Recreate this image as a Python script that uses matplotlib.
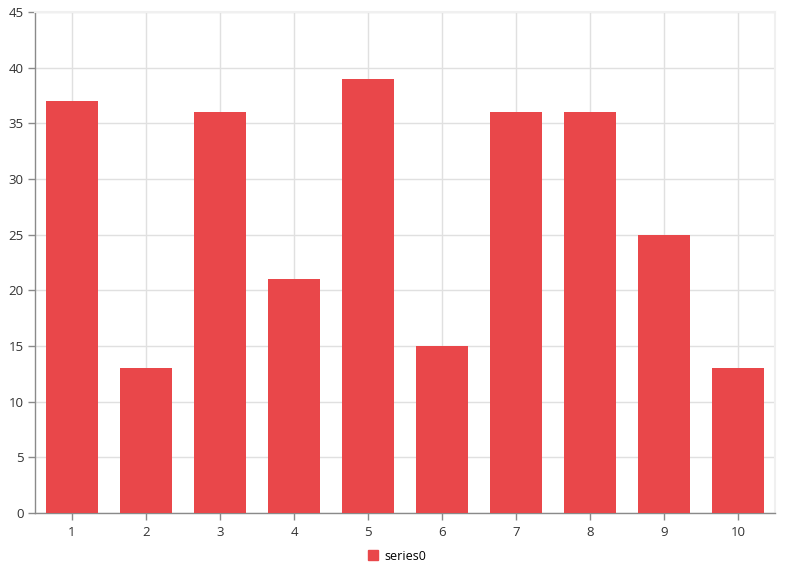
import matplotlib
matplotlib.use('Agg')
import matplotlib.pyplot as plt
from matplotlib.patches import Patch

# datos del grafico
categorias = ['1', '2', '3', '4', '5', '6', '7', '8', '9', '10']
valores = [37, 13, 36, 21, 39, 15, 36, 36, 25, 13]
nombre_serie = 'series0'

plt.rcParams['font.family'] = ['Open Sans', 'DejaVu Sans']

W, H = 790, 569
fig = plt.figure(figsize=(W / 100, H / 100), dpi=100)
ax = fig.add_axes([35 / W, (H - 513) / H, 740 / W, 501 / H])

x = list(range(len(categorias)))
ax.bar(x, valores, width=0.7, color='#E9474A', zorder=3)

ax.set_xlim(-0.5, len(categorias) - 0.5)
ax.set_ylim(0, 45)
ax.set_yticks(range(0, 46, 5))
ax.set_xticks(x)
ax.set_xticklabels(categorias)

ax.grid(True, color='#E0E0E0', linewidth=1, zorder=0)
for lado in ['top', 'right']:
    ax.spines[lado].set_color('#F0F0F0')
    ax.spines[lado].set_linewidth(1.5)
for lado in ['left', 'bottom']:
    ax.spines[lado].set_color('#8A8A8A')
    ax.spines[lado].set_linewidth(1)

ax.tick_params(axis='both', colors='#8A8A8A', labelcolor='#333333',
               labelsize=9.5, length=5, width=1)
ax.tick_params(axis='x', pad=4)
ax.tick_params(axis='y', pad=3)

# leyenda
fig.legend(handles=[Patch(color='#E9474A', label=nombre_serie)],
           loc='center', bbox_to_anchor=(0.503, 1 - 556 / H), frameon=False,
           fontsize=9, handlelength=0.8, handleheight=0.8, handletextpad=0.5)

fig.savefig('out.png', dpi=100)
